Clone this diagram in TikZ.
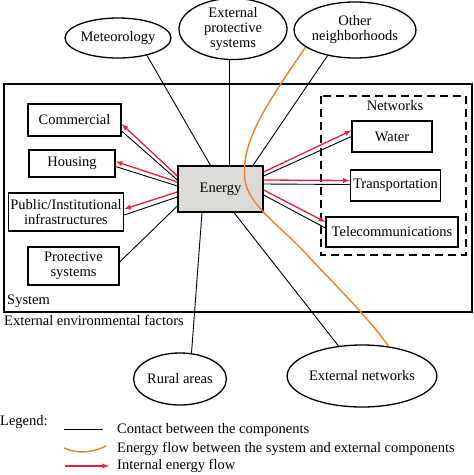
\documentclass[tikz,border=0pt]{standalone}
\usepackage{fontspec}
\setmainfont{Liberation Serif}
\usepackage{xcolor}
\usepackage{tikz}
\usetikzlibrary{shapes.geometric}

\definecolor{flowred}{HTML}{E2223E}
\definecolor{floworange}{HTML}{F08022}
\definecolor{energygray}{HTML}{DCDCD7}

\begin{document}
\begin{tikzpicture}[
    x=1pt,
    y=-1pt,
    font=\fontsize{14.5}{15}\selectfont,
    component/.style={
        draw,
        rectangle,
        line width=1.3pt,
        inner sep=2pt,
        align=center
    },
    factor/.style={
        draw,
        ellipse,
        line width=1.3pt,
        inner sep=0pt,
        align=center
    },
    sysframe/.style={
        draw,
        line width=1.2pt
    },
    netframe/.style={
        draw,
        line width=1.2pt,
        dash pattern=on 8pt off 5pt
    },
    contact/.style={
        line width=0.9pt
    },
    flow/.style={
        ->,
        >=latex,
        line width=1.3pt,
        flowred
    },
    exchange/.style={
        line width=1.4pt,
        floworange
    }
]
    \useasboundingbox (0,0) rectangle (474,475);

    % System frame and networks frame
    \draw[sysframe] (4,84) rectangle (472,312);
    \draw[netframe] (321,96) rectangle (466,255);
    \node[anchor=base west, inner sep=0pt] (systxt) at (7,304) {System};
    \node[anchor=base west, inner sep=0pt] (envtxt) at (4,325) {External environmental factors};
    \node[anchor=base, inner sep=0pt] (nettxt) at (395,110) {Networks};

    % External factors
    \node[factor, minimum width=89pt, minimum height=40pt] (meteo) at (118,38) {Meteorology};
    \node[factor, minimum width=108pt, minimum height=57pt] (extprot) at (233,29) {External\\protective\\systems};
    \node[factor, minimum width=103pt, minimum height=56pt] (neigh) at (355,30) {Other\\neighborhoods};
    \node[factor, minimum width=88pt, minimum height=52pt] (rural) at (180,379) {Rural areas};
    \node[factor, minimum width=116pt, minimum height=62pt] (extnet) at (362,376) {External networks};

    % System components
    \node[component, fill=energygray, minimum width=85pt, minimum height=46pt] (energy) at (220.5,189) {Energy};
    \node[component, minimum width=93pt, minimum height=32pt] (comm) at (74.5,120) {Commercial};
    \node[component, minimum width=86pt, minimum height=27pt] (house) at (72,163.5) {Housing};
    \node[component, minimum width=114pt, minimum height=38pt] (public) at (66,212) {Public/Institutional\\infrastructures};
    \node[component, minimum width=91pt, minimum height=38pt] (protect) at (73.5,266) {Protective\\systems};

    % Network components
    \node[component, minimum width=80pt, minimum height=31pt] (water) at (392,136.5) {Water};
    \node[component, minimum width=90pt, minimum height=31pt] (transp) at (395.5,185.5) {Transportation};
    \node[component, minimum width=132pt, minimum height=30pt] (telecom) at (392,232) {Telecommunications};

    % Contacts with external factors
    \draw[contact] (meteo.-31) -- ([xshift=-10]energy.north);
    \draw[contact] ([xshift=-4]extprot.south) -- ([xshift=8.5]energy.north);
    \draw[contact] (neigh.223) -- ([xshift=32.5]energy.north);
    \draw[contact] ([xshift=-18.5]energy.south) -- (rural.66);
    \draw[contact] ([xshift=13.5]energy.south) -- (extnet.128);

    % Contacts inside the system
    \draw[contact] ([yshift=9]energy.west) -- ([yshift=-11]comm.east);
    \draw[contact] ([yshift=3]energy.west) -- ([yshift=-3]house.east);
    \draw[contact] ([yshift=-8]energy.west) -- ([yshift=-3]public.east);
    \draw[contact] ([yshift=-17]energy.west) -- ([yshift=4]protect.east);
    \draw[contact] ([yshift=13]energy.east) -- (water.west);
    \draw[contact] ([yshift=5]energy.east) -- ([yshift=1]transp.west);
    \draw[contact] ([yshift=-6]energy.east) -- ([yshift=4]telecom.west);

    % Internal energy flows
    \draw[flow] ([yshift=13]energy.west) -- ([yshift=-4]comm.east);
    \draw[flow] ([yshift=7]energy.west) -- ([yshift=2]house.east);
    \draw[flow] ([yshift=-3]energy.west) -- ([yshift=3]public.east);
    \draw[flow] ([yshift=17]energy.east) -- ([yshift=6]water.west);
    \draw[flow] ([yshift=9]energy.east) -- ([yshift=5]transp.west);
    \draw[flow] ([yshift=-1]energy.east) -- ([yshift=10]telecom.west);

    % Energy flow with external components
    \draw[exchange] (neigh.199) .. controls (270,100) and (240,140) .. (245,180)
        .. controls (248,205) and (280,225) .. (310,258)
        .. controls (345,295) and (370,320) .. (extnet.48);

    % Legend
    \node[anchor=base west, inner sep=0pt] (legtxt) at (0,425) {Legend:};
    \node[anchor=base west, inner sep=0pt] (contacttxt) at (117,433) {Contact between the components};
    \node[anchor=base west, inner sep=0pt] (exchtxt) at (117,452) {Energy flow between the system and external components};
    \node[anchor=base west, inner sep=0pt] (flowtxt) at (117,469) {Internal energy flow};
    \draw[contact] ([xshift=-53,yshift=4]contacttxt.base west) -- ([xshift=-14,yshift=4]contacttxt.base west);
    \draw[exchange] ([xshift=-53,yshift=4]exchtxt.base west) .. controls ([xshift=-40,yshift=-2]exchtxt.base west) and ([xshift=-25,yshift=-1]exchtxt.base west) .. ([xshift=-11,yshift=6]exchtxt.base west);
    \draw[flow] ([xshift=-52,yshift=3]flowtxt.base west) -- ([xshift=-8,yshift=3]flowtxt.base west);

\end{tikzpicture}
\end{document}
